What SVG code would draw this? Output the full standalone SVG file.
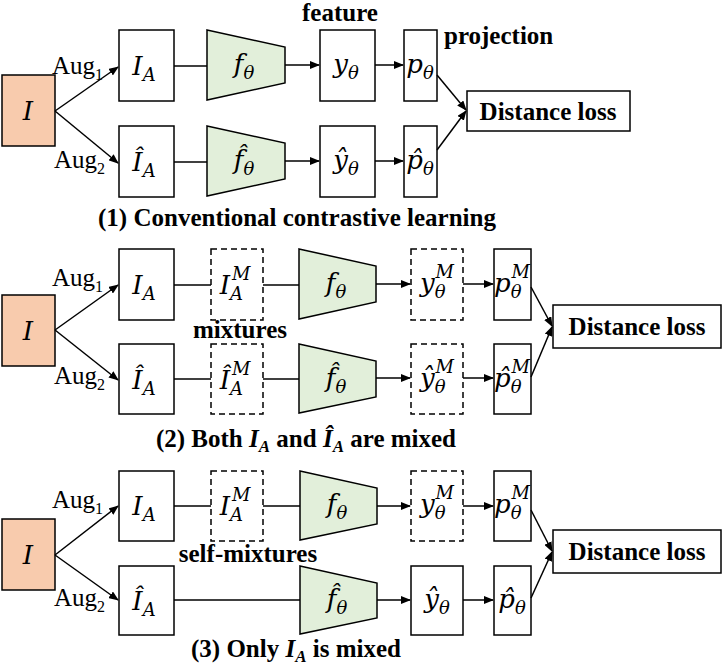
<svg xmlns="http://www.w3.org/2000/svg" width="724" height="667" viewBox="0 0 724 667">
<style>
.b{fill:#fff;stroke:#000;stroke-width:1.5}
.d{fill:#fff;stroke:#000;stroke-width:1.5;stroke-dasharray:6,4}
.src{fill:#f8cbad;stroke:#000;stroke-width:1.5}
.tr{fill:#e2efda;stroke:#000;stroke-width:1.5}
.m{font-family:'DejaVu Serif','Liberation Serif',serif;font-style:italic;font-size:26px;text-anchor:middle}
.s{font-size:18px}
.r{font-family:'Liberation Serif',serif;font-size:25px}
.h{font-family:'Liberation Serif',serif;font-weight:bold;font-size:25px}
.hc{font-family:'Liberation Serif',serif;font-weight:bold;font-size:25px;text-anchor:middle}
.c line{stroke:#000;stroke-width:1.5;fill:none}
</style>
<defs><marker id="a" markerWidth="10" markerHeight="8" refX="9" refY="4" orient="auto" markerUnits="userSpaceOnUse"><path d="M0,0L10,4L0,8z"/></marker></defs>

<g id="p1">
<g id="n1I"><rect class="src" x="2" y="75" width="53" height="71"/><text class="m" x="28" y="120">I</text></g>
<g id="n1IA"><rect class="b" x="119" y="30" width="55" height="71"/><text class="m" x="144" y="75">I<tspan class="s" dy="6">A</tspan></text></g>
<g id="n1f"><polygon class="tr" points="207,30 285,47 285,83 207,100"/><text class="m" x="244" y="73">f<tspan class="s" dy="6">θ</tspan></text></g>
<g id="n1y"><rect class="b" x="320" y="30" width="55" height="71"/><text class="m" x="346" y="73">y<tspan class="s" dy="6">θ</tspan></text></g>
<g id="n1p"><rect class="b" x="404" y="30" width="33" height="71"/><text class="m" x="420" y="73">p<tspan class="s" dy="6">θ</tspan></text></g>
<g id="n1IA2"><rect class="b" x="119" y="126" width="55" height="71"/><text class="m" x="144" y="171">Î<tspan class="s" dy="6">A</tspan></text></g>
<g id="n1f2"><polygon class="tr" points="207,126 285,143 285,179 207,196"/><text class="m" x="244" y="169">f̂<tspan class="s" dy="6">θ</tspan></text></g>
<g id="n1y2"><rect class="b" x="320" y="126" width="55" height="71"/><text class="m" x="346" y="169">ŷ<tspan class="s" dy="6">θ</tspan></text></g>
<g id="n1p2"><rect class="b" x="404" y="126" width="33" height="71"/><text class="m" x="420" y="169">p̂<tspan class="s" dy="6">θ</tspan></text></g>
<g id="n1L"><rect class="b" x="467" y="91" width="163" height="40"/><text class="hc" x="548" y="120">Distance loss</text></g>
<text class="r" x="52" y="74">Aug<tspan font-size="16" dy="6">1</tspan></text>
<text class="r" x="54" y="168">Aug<tspan font-size="16" dy="6">2</tspan></text>
<text class="hc" x="340" y="21">feature</text>
<text class="h" x="444" y="44">projection</text>
<text class="hc" x="297" y="226">(1) Conventional contrastive learning</text>
</g>

<g id="p2">
<g id="n2I"><rect class="src" x="2" y="295" width="53" height="71"/><text class="m" x="28" y="340">I</text></g>
<g id="n2IA"><rect class="b" x="119" y="249" width="55" height="71"/><text class="m" x="144" y="294">I<tspan class="s" dy="6">A</tspan></text></g>
<g id="n2IM"><rect class="d" x="211" y="249" width="52" height="71"/><text class="m" x="235" y="294">I<tspan class="s" dy="6">A</tspan><tspan class="s" dx="-11" dy="-20">M</tspan></text></g>
<g id="n2f"><polygon class="tr" points="299,249 376,266 376,302 299,319"/><text class="m" x="336" y="292">f<tspan class="s" dy="6">θ</tspan></text></g>
<g id="n2y"><rect class="d" x="411" y="249" width="52" height="71"/><text class="m" x="437" y="292">y<tspan class="s" dy="6">θ</tspan><tspan class="s" dx="-10" dy="-20">M</tspan></text></g>
<g id="n2p"><rect class="b" x="494" y="249" width="37" height="71"/><text class="m" x="512" y="292">p<tspan class="s" dy="6">θ</tspan><tspan class="s" dx="-10" dy="-20">M</tspan></text></g>
<g id="n2IA2"><rect class="b" x="119" y="344" width="55" height="70"/><text class="m" x="144" y="389">Î<tspan class="s" dy="6">A</tspan></text></g>
<g id="n2IM2"><rect class="d" x="211" y="344" width="52" height="70"/><text class="m" x="235" y="389">Î<tspan class="s" dy="6">A</tspan><tspan class="s" dx="-11" dy="-20">M</tspan></text></g>
<g id="n2f2"><polygon class="tr" points="299,344 376,361 376,397 299,413"/><text class="m" x="336" y="387">f̂<tspan class="s" dy="6">θ</tspan></text></g>
<g id="n2y2"><rect class="d" x="411" y="344" width="52" height="70"/><text class="m" x="437" y="387">ŷ<tspan class="s" dy="6">θ</tspan><tspan class="s" dx="-10" dy="-20">M</tspan></text></g>
<g id="n2p2"><rect class="b" x="494" y="344" width="37" height="70"/><text class="m" x="512" y="387">p̂<tspan class="s" dy="6">θ</tspan><tspan class="s" dx="-10" dy="-20">M</tspan></text></g>
<g id="n2L"><rect class="b" x="553" y="305" width="168" height="43"/><text class="hc" x="637" y="335">Distance loss</text></g>
<text class="r" x="52" y="286">Aug<tspan font-size="16" dy="6">1</tspan></text>
<text class="r" x="54" y="384">Aug<tspan font-size="16" dy="6">2</tspan></text>
<text class="hc" x="240" y="338">mixtures</text>
<text class="hc" x="306" y="447">(2) Both <tspan font-style="italic">I<tspan font-size="17" dy="5">A</tspan></tspan><tspan dy="-5"> and </tspan><tspan font-style="italic">Î<tspan font-size="17" dy="5">A</tspan></tspan><tspan dy="-5"> are mixed</tspan></text>
</g>

<g id="p3">
<g id="n3I"><rect class="src" x="2" y="519" width="53" height="71"/><text class="m" x="28" y="564">I</text></g>
<g id="n3IA"><rect class="b" x="119" y="471" width="55" height="70"/><text class="m" x="144" y="515">I<tspan class="s" dy="6">A</tspan></text></g>
<g id="n3IM"><rect class="d" x="211" y="471" width="52" height="70"/><text class="m" x="235" y="515">I<tspan class="s" dy="6">A</tspan><tspan class="s" dx="-11" dy="-20">M</tspan></text></g>
<g id="n3f"><polygon class="tr" points="300,471 377,488 377,524 300,540"/><text class="m" x="337" y="513">f<tspan class="s" dy="6">θ</tspan></text></g>
<g id="n3y"><rect class="d" x="411" y="471" width="52" height="70"/><text class="m" x="437" y="513">y<tspan class="s" dy="6">θ</tspan><tspan class="s" dx="-10" dy="-20">M</tspan></text></g>
<g id="n3p"><rect class="b" x="494" y="471" width="37" height="70"/><text class="m" x="512" y="513">p<tspan class="s" dy="6">θ</tspan><tspan class="s" dx="-10" dy="-20">M</tspan></text></g>
<g id="n3IA2"><rect class="b" x="119" y="566" width="55" height="69"/><text class="m" x="144" y="610">Î<tspan class="s" dy="6">A</tspan></text></g>
<g id="n3f2"><polygon class="tr" points="300,566 377,583 377,618 300,634"/><text class="m" x="337" y="608">f̂<tspan class="s" dy="6">θ</tspan></text></g>
<g id="n3y2"><rect class="b" x="411" y="566" width="52" height="69"/><text class="m" x="437" y="608">ŷ<tspan class="s" dy="6">θ</tspan></text></g>
<g id="n3p2"><rect class="b" x="494" y="566" width="37" height="69"/><text class="m" x="512" y="608">p̂<tspan class="s" dy="6">θ</tspan></text></g>
<g id="n3L"><rect class="b" x="553" y="530" width="168" height="43"/><text class="hc" x="637" y="560">Distance loss</text></g>
<text class="r" x="52" y="508">Aug<tspan font-size="16" dy="6">1</tspan></text>
<text class="r" x="54" y="606">Aug<tspan font-size="16" dy="6">2</tspan></text>
<text class="hc" x="248" y="562">self-mixtures</text>
<text class="hc" x="296" y="657">(3) Only <tspan font-style="italic">I<tspan font-size="17" dy="5">A</tspan></tspan><tspan dy="-5"> is mixed</tspan></text>
</g>

<g id="connectors" class="c">
<line x1="55" y1="111" x2="118" y2="67" marker-end="url(#a)"/>
<line x1="55" y1="111" x2="118" y2="163" marker-end="url(#a)"/>
<line x1="174" y1="66" x2="207" y2="66"/>
<line x1="285" y1="65" x2="319" y2="65" marker-end="url(#a)"/>
<line x1="375" y1="65" x2="403" y2="65" marker-end="url(#a)"/>
<line x1="174" y1="162" x2="207" y2="162"/>
<line x1="285" y1="161" x2="319" y2="161" marker-end="url(#a)"/>
<line x1="375" y1="161" x2="403" y2="161" marker-end="url(#a)"/>
<line x1="437" y1="75" x2="466" y2="110" marker-end="url(#a)"/>
<line x1="437" y1="150" x2="466" y2="111" marker-end="url(#a)"/>

<line x1="55" y1="330" x2="118" y2="285" marker-end="url(#a)"/>
<line x1="55" y1="330" x2="118" y2="380" marker-end="url(#a)"/>
<line x1="174" y1="285" x2="211" y2="285"/>
<line x1="263" y1="285" x2="299" y2="285"/>
<line x1="376" y1="284" x2="410" y2="284" marker-end="url(#a)"/>
<line x1="463" y1="284" x2="493" y2="284" marker-end="url(#a)"/>
<line x1="174" y1="379" x2="211" y2="379"/>
<line x1="263" y1="379" x2="299" y2="379"/>
<line x1="376" y1="378" x2="410" y2="378" marker-end="url(#a)"/>
<line x1="463" y1="378" x2="493" y2="378" marker-end="url(#a)"/>
<line x1="531" y1="287" x2="552" y2="326" marker-end="url(#a)"/>
<line x1="531" y1="377" x2="552" y2="327" marker-end="url(#a)"/>

<line x1="55" y1="555" x2="118" y2="506" marker-end="url(#a)"/>
<line x1="55" y1="555" x2="118" y2="600" marker-end="url(#a)"/>
<line x1="174" y1="506" x2="211" y2="506"/>
<line x1="263" y1="506" x2="300" y2="506"/>
<line x1="377" y1="506" x2="410" y2="506" marker-end="url(#a)"/>
<line x1="463" y1="506" x2="493" y2="506" marker-end="url(#a)"/>
<line x1="174" y1="600" x2="300" y2="600"/>
<line x1="377" y1="600" x2="410" y2="600" marker-end="url(#a)"/>
<line x1="463" y1="600" x2="493" y2="600" marker-end="url(#a)"/>
<line x1="531" y1="510" x2="552" y2="551" marker-end="url(#a)"/>
<line x1="531" y1="598" x2="552" y2="552" marker-end="url(#a)"/>
</g>
</svg>
